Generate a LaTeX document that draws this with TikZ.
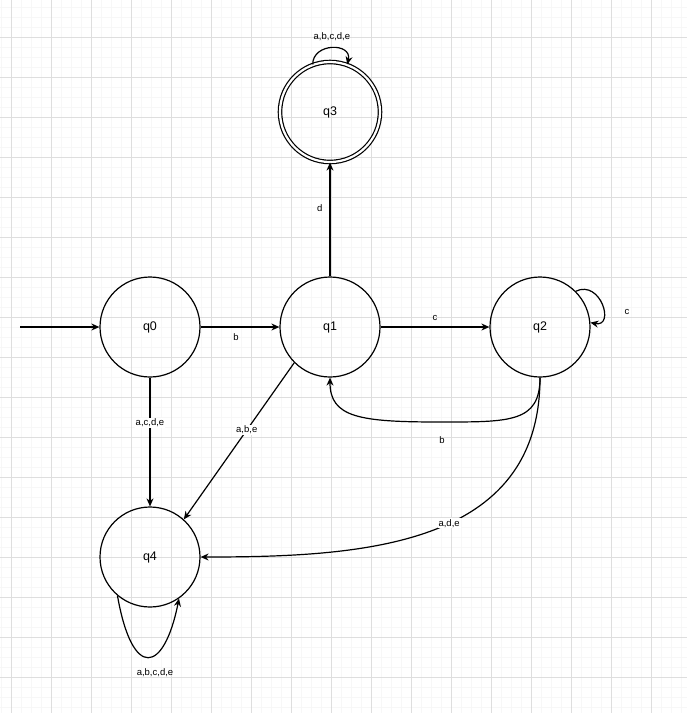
\documentclass[tikz,border=0pt]{standalone}
\usepackage{fontspec}
\setmainfont{Liberation Sans}
\usetikzlibrary{arrows.meta}
\begin{document}
\begin{tikzpicture}[x=1pt,y=-1pt,
  st/.style={circle,draw,line width=1.2pt,minimum size=100pt,inner sep=0pt,font=\fontsize{12.5}{14}\selectfont},
  acc/.style={st,double,double distance=2.2pt},
  tr/.style={-{Stealth[length=8pt,width=7pt]},line width=1.2pt},
  lb/.style={font=\fontsize{9.5}{11}\selectfont,inner sep=1pt}]
\useasboundingbox (0,0) rectangle (687,713);
\fill[white] (0,0) rectangle (687,713);
\foreach \x in {1,11,...,687} \draw[black!3,line width=0.5pt] (\x,0) -- (\x,713);
\foreach \y in {7,17,...,713} \draw[black!3,line width=0.5pt] (0,\y) -- (687,\y);
\foreach \x in {11,51,...,687} \draw[black!13,line width=0.6pt] (\x,0) -- (\x,713);
\foreach \y in {37,77,...,713} \draw[black!13,line width=0.6pt] (0,\y) -- (687,\y);
\node[st] (q0) at (150,327) {q0};
\node[st] (q1) at (330,327) {q1};
\node[st] (q2) at (540,327) {q2};
\node[acc] (q3) at (330,112) {q3};
\node[st] (q4) at (150,557) {q4};
\coordinate (s) at (20,327);
\draw[tr] (s) -- (q0);
\draw[tr] (q0) -- node[lb,below=5pt,pos=0.45] {b} (q1);
\draw[tr] (q1) -- node[lb,above=5pt,pos=0.5] {c} (q2);
\draw[tr] (q1) -- node[lb,left=6pt,pos=0.6] {d} (q3);
\draw[tr] (q3.110) .. controls +(0,-22) and +(5,-22) .. (q3.70) node[lb,above=6pt,pos=0.5] {a,b,c,d,e};
\draw[tr] (q2.45) .. controls +(25,-12) and +(25,5) .. (q2.5);
\node[lb] at (627,312) {c};
\draw[tr] (q2.270) .. controls +(0,45) and +(70,0) .. (440,422) .. controls +(-80,0) and +(0,40) .. (q1.270);
\node[lb] at (442,440) {b};
\draw[tr] (q2.270) .. controls +(0,170) and +(160,0) .. (q4.0) node[lb,pos=0.45,fill=white] {a,d,e};
\draw[tr] (q1.225) -- node[lb,pos=0.43,fill=white] {a,b,e} (q4.48);
\draw[tr] (q0) -- node[lb,pos=0.35,fill=white] {a,c,d,e} (q4);
\draw[tr] (q4.230) .. controls +(15,85) and +(-15,75) .. (q4.305);
\node[lb] at (155,673) {a,b,c,d,e};
\end{tikzpicture}
\end{document}
